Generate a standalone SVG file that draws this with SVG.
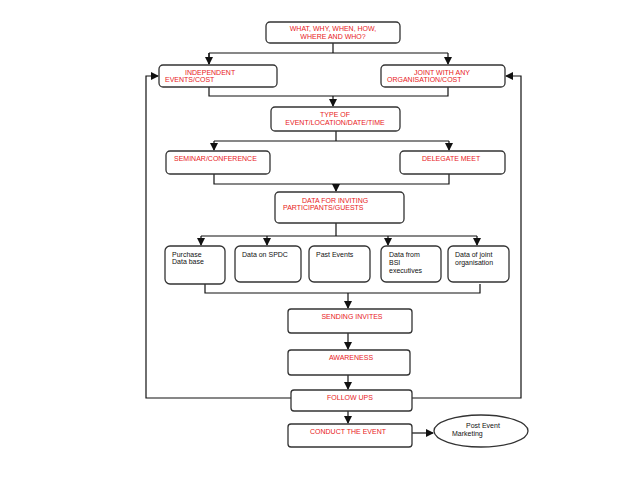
<svg xmlns="http://www.w3.org/2000/svg" width="638" height="478" viewBox="0 0 638 478">
<style>
.b{fill:#fff;stroke:#333;stroke-width:1.3}
.r{fill:#e8201c;font-family:"Liberation Sans",Arial,sans-serif;font-size:7px}
.k{fill:#111;font-family:"Liberation Sans",Arial,sans-serif;font-size:7px}
.c{fill:none;stroke:#111;stroke-width:1.2}
</style>
<defs><marker id="a" markerWidth="8" markerHeight="8" refX="7" refY="4" orient="auto" markerUnits="userSpaceOnUse"><path d="M0,0L8,4L0,8z" fill="#111"/></marker></defs>
<rect width="638" height="478" fill="#fff"/>
<g id="connectors" class="c">
<path d="M333,43V53M209,53H448M209,53V64M448,53V64" marker-end="url(#a)"/>
<path d="M209,53V64" marker-end="url(#a)"/>
<path d="M209,87V96H448V87M333,96V106" marker-end="url(#a)"/>
<path d="M336,131V141M214,141H449M214,141V150" marker-end="url(#a)"/>
<path d="M449,141V150" marker-end="url(#a)"/>
<path d="M214,174V184H449V174M336,184V191" marker-end="url(#a)"/>
<path d="M336,223V236M201,236H477M201,236V245" marker-end="url(#a)"/>
<path d="M267,236V245" marker-end="url(#a)"/>
<path d="M388,236V245" marker-end="url(#a)"/>
<path d="M477,236V245" marker-end="url(#a)"/>
<path d="M205,284V293H480V284M348,293V308" marker-end="url(#a)"/>
<path d="M348,333V349" marker-end="url(#a)"/>
<path d="M348,375V389" marker-end="url(#a)"/>
<path d="M348,411V423" marker-end="url(#a)"/>
<path d="M412,433H433" marker-end="url(#a)"/>
<path d="M291,398H146V76H158" marker-end="url(#a)"/>
<path d="M412,398H521V76H506" marker-end="url(#a)"/>
</g>
<g id="n1"><rect class="b" x="266" y="22" width="134" height="21" rx="4"/><text class="r" x="333" y="31" text-anchor="middle">WHAT, WHY, WHEN, HOW,</text><text class="r" x="333" y="39" text-anchor="middle">WHERE AND WHO?</text></g>
<g id="n2"><rect class="b" x="159" y="65" width="118" height="22" rx="4"/><text class="r" x="185" y="75">INDEPENDENT</text><text class="r" x="165" y="82">EVENTS/COST</text></g>
<g id="n3"><rect class="b" x="381" y="65" width="124" height="22" rx="4"/><text class="r" x="414" y="75">JOINT WITH ANY</text><text class="r" x="387" y="82">ORGANISATION/COST</text></g>
<g id="n4"><rect class="b" x="271" y="107" width="129" height="24" rx="4"/><text class="r" x="335" y="117" text-anchor="middle">TYPE OF</text><text class="r" x="335" y="125" text-anchor="middle">EVENT/LOCATION/DATE/TIME</text></g>
<g id="n5"><rect class="b" x="166" y="151" width="104" height="23" rx="4"/><text class="r" x="174" y="161">SEMINAR/CONFERENCE</text></g>
<g id="n6"><rect class="b" x="400" y="151" width="105" height="23" rx="4"/><text class="r" x="422" y="161">DELEGATE MEET</text></g>
<g id="n7"><rect class="b" x="275" y="192" width="129" height="31" rx="4"/><text class="r" x="302" y="203">DATA FOR INVITING</text><text class="r" x="283" y="210">PARTICIPANTS/GUESTS</text></g>
<g id="n8"><rect class="b" x="165" y="246" width="60" height="38" rx="5"/><text class="k" x="172" y="257">Purchase</text><text class="k" x="172" y="264">Data base</text></g>
<g id="n9"><rect class="b" x="235" y="246" width="66" height="36" rx="5"/><text class="k" x="242" y="257">Data on SPDC</text></g>
<g id="n10"><rect class="b" x="309" y="246" width="61" height="36" rx="5"/><text class="k" x="316" y="257">Past Events</text></g>
<g id="n11"><rect class="b" x="381" y="246" width="60" height="36" rx="5"/><text class="k" x="389" y="257">Data from</text><text class="k" x="389" y="265">BSI</text><text class="k" x="389" y="273">executives</text></g>
<g id="n12"><rect class="b" x="448" y="246" width="61" height="36" rx="5"/><text class="k" x="455" y="257">Data of joint</text><text class="k" x="455" y="265">organisation</text></g>
<g id="n13"><rect class="b" x="288" y="309" width="124" height="24" rx="3"/><text class="r" x="352" y="319" text-anchor="middle">SENDING INVITES</text></g>
<g id="n14"><rect class="b" x="288" y="350" width="122" height="25" rx="3"/><text class="r" x="351" y="360" text-anchor="middle">AWARENESS</text></g>
<g id="n15"><rect class="b" x="291" y="390" width="121" height="21" rx="3"/><text class="r" x="350" y="400" text-anchor="middle">FOLLOW UPS</text></g>
<g id="n16"><rect class="b" x="288" y="424" width="124" height="23" rx="3"/><text class="r" x="348" y="434" text-anchor="middle">CONDUCT THE EVENT</text></g>
<g id="n17"><ellipse class="b" cx="481" cy="431" rx="47" ry="16"/><text class="k" x="466" y="428">Post Event</text><text class="k" x="452" y="436">Marketing</text></g>
</svg>
